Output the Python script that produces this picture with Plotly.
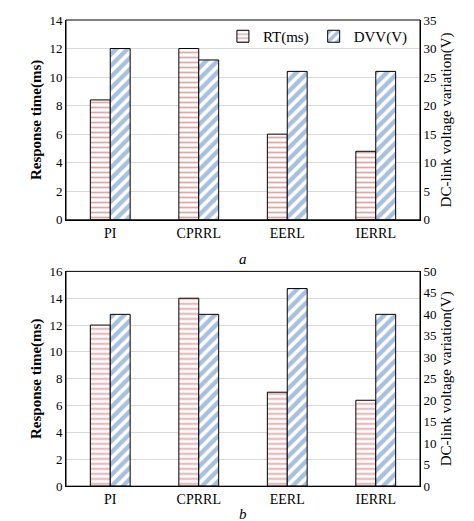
import plotly.graph_objects as go
from plotly.subplots import make_subplots

categories = ['PI', 'CPRRL', 'EERL', 'IERRL']
rt_a = [8.4, 12.0, 6.0, 4.8]
dvv_a = [30.0, 28.0, 26.0, 26.0]
rt_b = [12.0, 14.0, 7.0, 6.4]
dvv_b = [40.0, 40.0, 46.0, 40.0]

RED = '#c0504d'
BLUE = '#4f81bd'
FONT = 'Liberation Serif'

fig = make_subplots(rows=2, cols=1, specs=[[{'secondary_y': True}], [{'secondary_y': True}]],
                    vertical_spacing=0.1)


def add_pair(row, rt, dvv, show):
    fig.add_trace(go.Bar(x=categories, y=rt, name='RT(ms)', offsetgroup=1, showlegend=show,
                         legendgroup='rt', marker=dict(color='white', line=dict(color='black', width=1),
                                                       pattern=dict(shape='-', fgcolor=RED, size=5, solidity=0.35))),
                  row=row, col=1, secondary_y=False)
    fig.add_trace(go.Bar(x=categories, y=dvv, name='DVV(V)', offsetgroup=2, showlegend=show,
                         legendgroup='dvv', marker=dict(color='white', line=dict(color='black', width=1),
                                                        pattern=dict(shape='/', fgcolor=BLUE, size=8, solidity=0.55))),
                  row=row, col=1, secondary_y=True)


add_pair(1, rt_a, dvv_a, True)
add_pair(2, rt_b, dvv_b, False)

ax_style = dict(showline=True, linecolor='black', mirror=False, ticks='', tickfont=dict(size=13, color='black'))
fig.update_layout(
    width=474, height=521, margin=dict(l=58, r=62, t=5, b=40),
    plot_bgcolor='white', paper_bgcolor='white', bargap=0.55, barmode='group',
    font=dict(family=FONT, color='black', size=13),
    legend=dict(orientation='h', x=0.98, y=1.0, xanchor='right', yanchor='top', font=dict(size=15),
                bgcolor='rgba(0,0,0,0)'),
    xaxis=dict(domain=[0, 1], **ax_style), xaxis2=dict(domain=[0, 1], **ax_style),
    yaxis=dict(domain=[0.574, 1.0], range=[0, 14], dtick=2, showgrid=True, gridcolor='#d9d9d9',
               title=dict(text='<b>Response time(ms)</b>', font=dict(size=15), standoff=4), **ax_style),
    yaxis2=dict(range=[0, 35], dtick=5, showgrid=False,
                title=dict(text='DC-link voltage variation(V)', font=dict(size=15), standoff=4), **ax_style),
    yaxis3=dict(domain=[0.006, 0.464], range=[0, 16], dtick=2, showgrid=True, gridcolor='#d9d9d9',
                title=dict(text='<b>Response time(ms)</b>', font=dict(size=15), standoff=4), **ax_style),
    yaxis4=dict(range=[0, 50], dtick=5, showgrid=False,
                title=dict(text='DC-link voltage variation(V)', font=dict(size=15), standoff=4), **ax_style),
)
fig.update_layout(yaxis2=dict(overlaying='y', anchor='x', side='right'),
                  yaxis4=dict(overlaying='y3', anchor='x2', side='right'))
# frames around each plot area
for y0, y1 in [(0.574, 1.0), (0.006, 0.464)]:
    fig.add_shape(type='rect', xref='paper', yref='paper', x0=0, x1=1, y0=y0, y1=y1,
                  line=dict(color='black', width=1))
fig.add_annotation(text='<i>a</i>', xref='paper', yref='paper', x=0.5, y=0.49, showarrow=False,
                   font=dict(size=15))
fig.add_annotation(text='<i>b</i>', xref='paper', yref='paper', x=0.5, y=-0.075, showarrow=False,
                   font=dict(size=15))
fig.update_xaxes(tickfont=dict(size=14))

fig.write_html('out.html')
